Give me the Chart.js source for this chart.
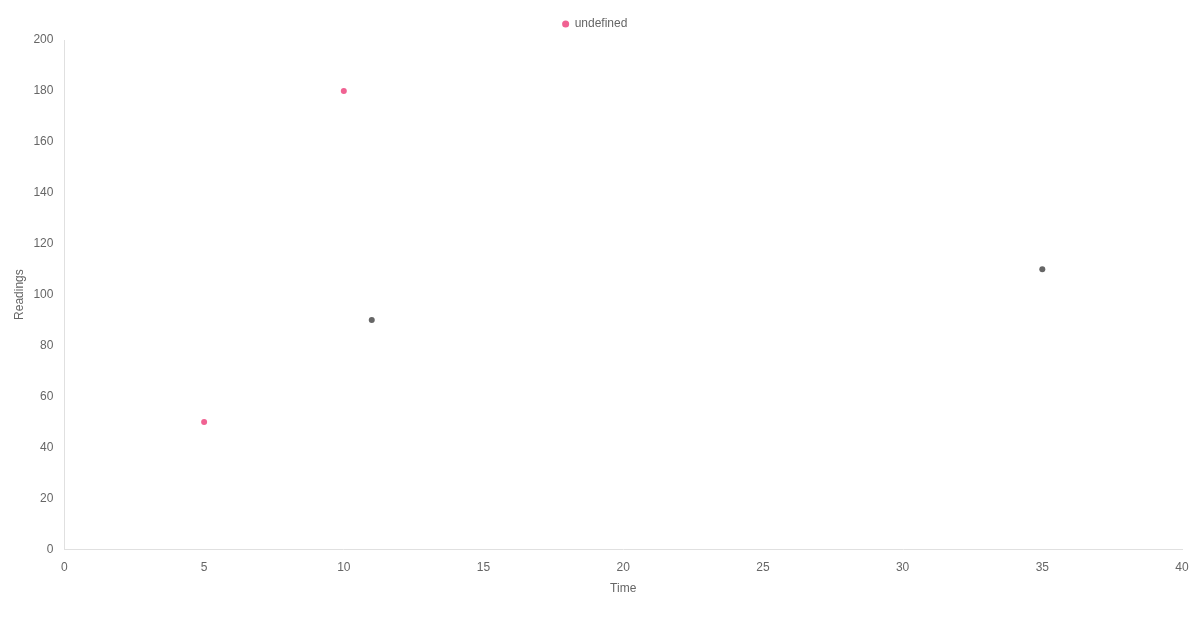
<!DOCTYPE html>
<html>
<head>
<meta charset="utf-8">
<script src="https://cdn.jsdelivr.net/npm/chart.js@4"></script>
<style>
html,body{margin:0;padding:0;background:#fff;}
#wrap{width:1200px;height:630px;}
</style>
</head>
<body>
<div id="wrap"><canvas id="c" width="1200" height="630"></canvas></div>
<script>
const xValues = [5, 10, 11, 35];
const yValues = [50, 180, 90, 110];
const pointColors = ['#f06292', '#f06292', '#666666', '#666666'];
const seriesLabel = 'undefined';
const xTitle = 'Time';
const yTitle = 'Readings';

Chart.defaults.font.family = "'Liberation Sans', Arial, sans-serif";
Chart.defaults.font.size = 12;
Chart.defaults.color = '#666';

new Chart(document.getElementById('c'), {
  type: 'scatter',
  data: {
    datasets: [{
      label: seriesLabel,
      data: xValues.map((x, i) => ({x: x, y: yValues[i]})),
      pointBackgroundColor: pointColors,
      pointBorderColor: pointColors,
      backgroundColor: pointColors[0],
      borderColor: pointColors[0],
      pointRadius: 3,
      borderWidth: 0
    }]
  },
  options: {
    responsive: false,
    animation: false,
    layout: {padding: {top: 8, right: 18, bottom: 30, left: 8}},
    plugins: {
      legend: {
        labels: {usePointStyle: true, pointStyle: 'circle', boxWidth: 6, boxHeight: 5}
      },
      tooltip: {enabled: false}
    },
    scales: {
      x: {
        type: 'linear', min: 0, max: 40,
        ticks: {stepSize: 5},
        grid: {display: false},
        border: {display: true, color: '#e0e0e0'},
        title: {display: true, text: xTitle}
      },
      y: {
        min: 0, max: 200,
        ticks: {stepSize: 20},
        grid: {display: false},
        border: {display: true, color: '#e0e0e0'},
        title: {display: true, text: yTitle}
      }
    }
  }
});
</script>
</body>
</html>
